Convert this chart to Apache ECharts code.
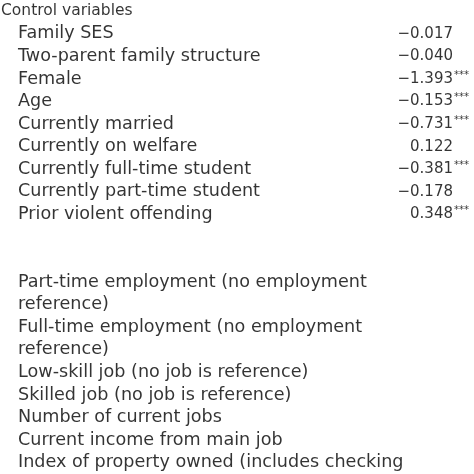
<!DOCTYPE html>
<html><head><meta charset="utf-8">
<script src="https://cdn.jsdelivr.net/npm/echarts@6/dist/echarts.min.js"></script>
<style>html,body{margin:0;background:#fff}#c{width:474px;height:474px}</style>
</head><body><div id="c"></div>
<script>
const rowLabels = ["Control variables","Family SES","Two-parent family structure","Female","Age","Currently married","Currently on welfare","Currently full-time student","Currently part-time student","Prior violent offending","","Economic and employment well-being (W III)","Part-time employment (no employment","reference)","Full-time employment (no employment","reference)","Low-skill job (no job is reference)","Skilled job (no job is reference)","Number of current jobs","Current income from main job","Index of property owned (includes checking","account, credit card, etc.)"];
const rowIndent = [0,1,1,1,1,1,1,1,1,1,0,0,1,1,1,1,1,1,1,1,1,1];
const values = ["","\u22120.017","\u22120.040","\u22121.393","\u22120.153","\u22120.731","0.122","\u22120.381","\u22120.178","0.348"];
const stars = ["","","","***","***","***","","***","","***"];
const base = {fontFamily:"DejaVu Sans",color:"#000",textBorderWidth:0};
const labelData = rowLabels.map((t,i)=>({value:[rowIndent[i]?18:(i===0?1:-3),i],name:t,
  label:{fontSize: i===0?15.5:(i===11?19:17.6)}})).filter(d=>d.name);
const valData = values.map((t,i)=>({value:[453,i],name:t})).filter(d=>d.name);
const starData = stars.map((t,i)=>({value:[454,i],name:t})).filter(d=>d.name);
function s(data,pos,extra){return {type:'scatter',symbolSize:0,data,silent:true,
  emphasis:{disabled:true},
  label:Object.assign({show:true,position:pos,distance:0,formatter:p=>p.name,fontSize:15},base,extra||{})};}
echarts.init(document.getElementById('c')).setOption({
  animation:false,
  grid:{left:0,right:0,top:-1.65,bottom:-13.65},
  xAxis:{type:'value',min:0,max:474,show:false},
  yAxis:{type:'value',min:-0.5,max:20.5,inverse:true,show:false},
  series:[s(labelData,'right'),s(valData,'left'),s(starData,'right',{fontSize:10,offset:[0,-4]})]
});
</script></body></html>
